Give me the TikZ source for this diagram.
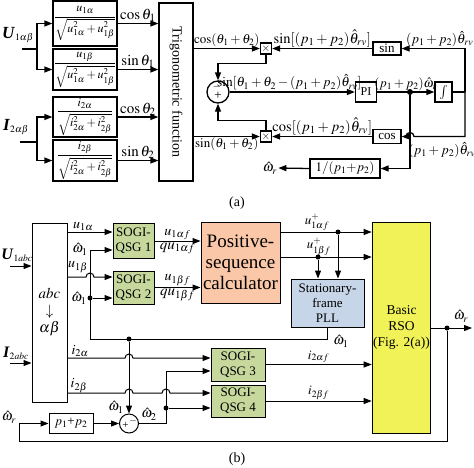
\documentclass[tikz,border=0pt]{standalone}
\usepackage{amsmath}
\usepackage{mathptmx}
\usepackage[no-math]{fontspec}
\setmainfont{Liberation Serif}
\usetikzlibrary{arrows.meta, positioning, calc}
\definecolor{sogigreen}{RGB}{198, 216, 156}
\definecolor{seqorange}{RGB}{250, 200, 168}
\definecolor{pllblue}{RGB}{198, 213, 232}
\definecolor{rsoyellow}{RGB}{240, 242, 88}
\newcommand{\fsz}[1]{\fontsize{#1}{#1}\selectfont}

\begin{document}
\begin{tikzpicture}[x=1pt, y=-1pt,
  wire/.style={line width=1.3pt},
  sig/.style={line width=1.3pt, -{Triangle[length=8pt, width=6pt]}},
  bwire/.style={line width=1pt},
  bsig/.style={line width=1pt, -{Triangle[length=8pt, width=6pt]}},
  blk/.style={draw, line width=1.3pt, inner sep=1pt, font=\fsz{14}},
  fracblk/.style={blk, minimum width=64pt, inner sep=0pt, font=\fsz{12}},
  bblk/.style={draw, line width=1pt, inner sep=1pt, align=center, font=\fontsize{13}{15}\selectfont},
  lbl/.style={inner sep=1pt, font=\fsz{13}},
  blbl/.style={inner sep=1pt, font=\fsz{14}},
  dot/.style={circle, fill, inner sep=0pt, minimum size=6pt}]
  \useasboundingbox (0,0) rectangle (474,467);

  % (a) normalisation blocks
  \node[fracblk, minimum height=45pt] (nua) at (85,23.5) {$\displaystyle\frac{u_{1\alpha}}{\sqrt{u_{1\alpha}^2+u_{1\beta}^2}}$};
  \node[fracblk, minimum height=41pt] (nub) at (85,69.5) {$\displaystyle\frac{u_{1\beta}}{\sqrt{u_{1\alpha}^2+u_{1\beta}^2}}$};
  \node[fracblk, minimum height=40pt] (nia) at (85,117) {$\displaystyle\frac{i_{2\alpha}}{\sqrt{i_{2\alpha}^2+i_{2\beta}^2}}$};
  \node[fracblk, minimum height=41pt] (nib) at (85,160.5) {$\displaystyle\frac{i_{2\beta}}{\sqrt{i_{2\alpha}^2+i_{2\beta}^2}}$};
  \node[blk, minimum width=34pt, minimum height=178pt] (trig) at (176,92) {\rotatebox{-90}{Trigonometric function}};

  % (a) inputs
  \node[lbl] (lUa) at (18,35) {{\fsz{17}\textbf{\textit{U}}}$_{1\alpha\beta}$};
  \coordinate (sU) at (22,49);
  \coordinate (jU) at (37,49);
  \draw[wire] (sU) -- (jU);
  \draw[sig] (jU) |- (nua.west);
  \draw[sig] (jU) |- (nub.west);
  \node[lbl] (lIa) at (16,127) {{\fsz{17}\textbf{\textit{I}}}$_{2\alpha\beta}$};
  \coordinate (sI) at (20,142);
  \coordinate (jI) at (37,142);
  \draw[wire] (sI) -- (jI);
  \draw[sig] (jI) |- (nia.west);
  \draw[sig] (jI) |- (nib.west);

  \draw[sig] (nua.east) -- (trig.west |- nua.east) node[lbl, midway, above, font=\fsz{15}] {$\cos\theta_1$};
  \draw[sig] (nub.east) -- (trig.west |- nub.east) node[lbl, midway, above, font=\fsz{15}] {$\sin\theta_1$};
  \draw[sig] (nia.east) -- (trig.west |- nia.east) node[lbl, midway, above, font=\fsz{15}] {$\cos\theta_2$};
  \draw[sig] (nib.east) -- (trig.west |- nib.east) node[lbl, midway, above, font=\fsz{15}] {$\sin\theta_2$};

  % (a) rotor position loop
  \node[blk, minimum size=11pt, inner sep=0pt, font=\fsz{11}] (m1) at (266,48.5) {$\times$};
  \node[blk, minimum size=11pt, inner sep=0pt, font=\fsz{11}] (m2) at (266,136.5) {$\times$};
  \node[draw, circle, line width=1.3pt, minimum size=22pt, inner sep=0pt] (s1) at (218,92) {};
  \node[font=\fsz{11}, inner sep=0pt] at ([xshift=-1pt,yshift=5pt]s1.center) {$-$};
  \node[font=\fsz{13}, inner sep=0pt] at ([yshift=-4pt]s1.center) {+};
  \node[blk, minimum width=21pt, minimum height=20pt, font=\fsz{12}] (pi) at (366,92) {PI};
  \node[blk, minimum width=17pt, minimum height=20pt, inner sep=0pt] (intg) at (443.5,92) {$\int$};
  \node[blk, minimum width=28pt, minimum height=13pt, inner sep=0pt, font=\fsz{13}] (sinb) at (387,48.5) {sin};
  \node[blk, minimum width=28pt, minimum height=14pt, inner sep=0pt, font=\fsz{13}] (cosb) at (387,136.5) {cos};
  \node[blk, minimum width=70pt, minimum height=19pt, inner sep=0pt, font=\fsz{13}] (gain) at (345,168.5) {$1/(p_1{+}p_2)$};
  \node[dot] (d0) at (410,92) {};
  \coordinate (rt) at (465,92);
  \node[lbl, font=\fsz{14}] (wrA) at (270,168) {$\hat{\omega}_r$};

  \draw[sig] (trig.east |- m1) -- (m1.west) node[lbl, midway, above] {$\cos(\theta_1+\theta_2)$};
  \draw[sig] (trig.east |- m2) -- (m2.west) node[lbl, midway, below] {$\sin(\theta_1+\theta_2)$};
  \draw[sig] (m1.south) -- ++(0,9) -| (s1.north);
  \draw[sig] (m2.north) -- ++(0,-10) -| (s1.south);
  \draw[sig] (s1.east) -- (pi.west) node[lbl, midway, above, xshift=-3pt, font=\fsz{13.5}] {$\sin[\theta_1+\theta_2-(p_1+p_2)\hat{\theta}_{rv}]$};
  \draw[sig] (pi.east) -- (intg.west) node[lbl, midway, above] {$(p_1+p_2)\hat{\omega}_r$};
  \draw[wire] (intg.east) -- (rt);
  \draw[sig] (rt) |- (sinb.east) node[lbl, pos=0.7, above, font=\fsz{13.5}] {$(p_1+p_2)\hat{\theta}_{rv}$};
  \draw[sig] (rt) |- ([xshift=4pt]d0 |- cosb.east) arc[start angle=0, end angle=180, radius=4pt] -- (cosb.east);
  \node[lbl, font=\fsz{13.5}] at (442,150) {$(p_1+p_2)\hat{\theta}_{rv}$};
  \draw[sig] (sinb.west) -- (m1.east) node[lbl, midway, above, font=\fsz{14.5}] {$\sin[(p_1+p_2)\hat{\theta}_{rv}]$};
  \draw[sig] (cosb.west) -- (m2.east) node[lbl, midway, above, font=\fsz{14.5}] {$\cos[(p_1+p_2)\hat{\theta}_{rv}]$};
  \draw[sig] (d0) |- (gain.east);
  \draw[sig] (gain.west) -- (wrA.east);

  \node[font=\fsz{14}] (capA) at (237,203) {(a)};

  % (b) blocks
  \node[bblk, minimum width=35pt, minimum height=179pt, font=\fontsize{15}{17}\selectfont] (abc) at (49.5,312.5) {$abc$\\$\downarrow$\\$\alpha\beta$};
  \node[bblk, fill=sogigreen, minimum width=41pt, minimum height=35pt] (sg1) at (133.5,241) {SOGI-\\QSG 1};
  \node[bblk, fill=sogigreen, minimum width=41pt, minimum height=33pt] (sg2) at (133.5,287.5) {SOGI-\\QSG 2};
  \node[bblk, fill=seqorange, minimum width=79pt, minimum height=81pt, font=\fontsize{19}{21}\selectfont] (psc) at (240.5,262.5) {Positive-\\sequence\\calculator};
  \node[bblk, fill=pllblue, minimum width=73pt, minimum height=48pt] (pll) at (327.5,303) {Stationary-\\frame\\PLL};
  \node[bblk, fill=rsoyellow, minimum width=57pt, minimum height=211pt, font=\fontsize{13.5}{16}\selectfont] (rso) at (401.5,327.5) {Basic\\RSO\\(Fig. 2(a))};
  \node[bblk, fill=sogigreen, minimum width=54pt, minimum height=33pt] (sg3) at (238,364.5) {SOGI-\\QSG 3};
  \node[bblk, fill=sogigreen, minimum width=54pt, minimum height=32pt] (sg4) at (238,401) {SOGI-\\QSG 4};
  \node[draw, circle, line width=1pt, minimum size=19pt, inner sep=0pt] (s2) at (129,423.5) {};
  \node[font=\fsz{11}, inner sep=0pt] at ([xshift=-3.5pt,yshift=-2pt]s2.center) {+};
  \node[font=\fsz{10}, inner sep=0pt] at ([xshift=4pt,yshift=3pt]s2.center) {$-$};
  \node[bblk, minimum width=44pt, minimum height=20pt] (pg) at (71,423.5) {$p_1$+$p_2$};

  \node[dot, minimum size=5pt] (da) at (338,232) {};
  \node[dot, minimum size=5pt] (db) at (318,257) {};
  \node[dot, minimum size=5pt] (dw1) at (90,298) {};
  \node[dot, minimum size=5pt] (dw2) at (129,339) {};
  \node[dot, minimum size=5pt] (dw3) at (166,408) {};
  \node[dot, minimum size=5pt] (dr) at (447,328) {};

  % (b) inputs
  \node[lbl] (lUb) at (17,255) {{\fsz{16}\textbf{\textit{U}}}$_{1abc}$};
  \coordinate (inU) at (10,266);
  \draw[bsig] (inU) -- (abc.west |- inU);
  \node[lbl] (lIb) at (16,353) {{\fsz{16}\textbf{\textit{I}}}$_{2abc}$};
  \coordinate (inI) at (10,363);
  \draw[bsig] (inI) -- (abc.west |- inI);

  % (b) grid-side SOGIs
  \draw[bsig] (abc.east |- 0,232) -- (sg1.west |- 0,232) node[blbl, pos=0.35, above] {$u_{1\alpha}$};
  \draw[bsig] (abc.east |- 0,277) -- (86,277) arc[start angle=180, end angle=0, radius=4pt] -- (sg2.west |- 0,277);
  \node[blbl] at (78,267) {$u_{1\beta}$};
  \draw[bwire] (pll.south) |- (dw1 |- dw2);
  \draw[bsig] (dw1 |- dw2) |- (sg1.west |- 0,250);
  \draw[bsig] (dw1) -- (sg2.west |- dw1);
  \node[blbl] at (80,249) {$\hat{\omega}_1$};
  \node[blbl] at (79,298) {$\hat{\omega}_1$};
  \node[blbl] at (341,341) {$\hat{\omega}_1$};
  \draw[bsig] (sg1.east) -- (psc.west |- sg1.east) node[blbl, midway, above] {$u_{1\alpha f}$} node[blbl, midway, below, font=\fsz{15}] {$qu_{1\alpha f}$};
  \draw[bsig] (sg2.east) -- (psc.west |- sg2.east) node[blbl, midway, above] {$u_{1\beta f}$} node[blbl, midway, below, font=\fsz{15}] {$qu_{1\beta f}$};
  \draw[bsig] (psc.east |- da) -- (rso.west |- da) node[lbl, pos=0.4, above] {$u_{1\alpha f}^{+}$};
  \draw[bsig] (psc.east |- db) -- (rso.west |- db) node[lbl, pos=0.42, above] {$u_{1\beta f}^{+}$};
  \draw[bsig] (da) -- (da |- pll.north);
  \draw[bsig] (db) -- (db |- pll.north);

  % (b) rotor-side SOGIs
  \draw[bsig] (abc.east |- 0,358) -- (125,358) arc[start angle=180, end angle=0, radius=4pt] -- (sg3.west |- 0,358);
  \node[blbl] at (80,351) {$i_{2\alpha}$};
  \draw[bsig] (abc.east |- 0,393) -- (125,393) arc[start angle=180, end angle=0, radius=4pt] -- (162,393) arc[start angle=180, end angle=0, radius=4pt] -- (sg4.west |- 0,393);
  \node[blbl] at (79,386) {$i_{2\beta}$};
  \draw[bsig] (dw2) -- (s2.north);
  \node[blbl] at (116,407) {$\hat{\omega}_1$};
  \draw[bsig] (s2.east) -| (dw3 |- 0,371) -- (sg3.west |- 0,371);
  \draw[bsig] (dw3) -- (sg4.west |- dw3);
  \node[blbl] at (149,414) {$\hat{\omega}_2$};
  \draw[bsig] (pg.east) -- (s2.west);
  \draw[bsig] (sg3.east) -- (rso.west |- sg3.east) node[lbl, midway, above] {$i_{2\alpha f}$};
  \draw[bsig] (sg4.east) -- (rso.west |- sg4.east) node[lbl, midway, above] {$i_{2\beta f}$};

  % (b) speed output and feedback
  \coordinate (outR) at (472,328);
  \coordinate (fb) at (19,441);
  \draw[bsig] (rso.east |- dr) -- (outR);
  \node[blbl] at (461,316) {$\hat{\omega}_r$};
  \draw[bsig] (dr) |- (fb) |- (pg.west);
  \node[blbl] at (9,417) {$\hat{\omega}_r$};

  \node[font=\fsz{14}] (capB) at (237,459) {(b)};
\end{tikzpicture}
\end{document}
